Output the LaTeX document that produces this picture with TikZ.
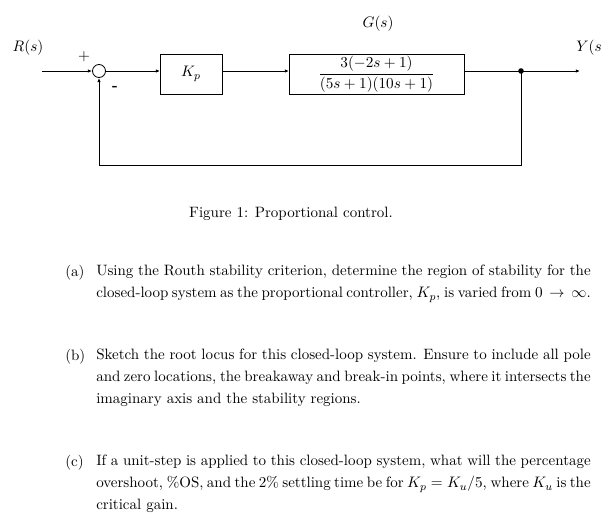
\documentclass[tikz,border=0pt]{standalone}
\usetikzlibrary{arrows.meta}
\begin{document}
\begin{tikzpicture}[x=0.72pt,y=-0.72pt,
  every node/.style={font=\fontsize{10.8pt}{15.8pt}\selectfont},
  blk/.style={draw,semithick,minimum height=40*0.72pt,inner sep=0pt},
  sig/.style={semithick,-{Latex[length=3pt,width=2.5pt]}},
  ln/.style={semithick},
  par/.style={anchor=north west,text width=356pt,align=justify,inner sep=0pt},
  lab/.style={anchor=north west,inner sep=0pt}]
\useasboundingbox (0,0) rectangle (601,528);
\coordinate (in) at (42,71);
\node[draw,semithick,circle,minimum size=13*0.72pt,inner sep=0pt] (sum) at (99,71) {};
\node[blk,minimum width=62*0.72pt] (kp) at (191,74) {$K_p$};
\node[blk,minimum width=175*0.72pt] (g) at (376.5,74) {$\displaystyle\frac{3(-2s+1)}{(5s+1)(10s+1)}$};
\coordinate (kpw) at (160,71);
\coordinate (kpe) at (222,71);
\coordinate (gw) at (289,71);
\coordinate (ge) at (464,71);
\coordinate (br) at (521,71);
\coordinate (out) at (580,71);
\coordinate (fb1) at (521,165);
\coordinate (fb2) at (99,165);
\fill (br) circle (2pt);
\draw[sig] (in) -- (sum.west);
\draw[sig] (sum.east) -- (kpw);
\draw[sig] (kpe) -- (gw);
\draw[ln] (ge) -- (br);
\draw[sig] (br) -- (out);
\draw[sig] (br) -- (fb1) -- (fb2) -- (sum.south);
\node (R) at (28,48) {$R(s)$};
\node (Y) at (592,48) {$Y(s)$};
\node (G) at (378,24) {$G(s)$};
\node (plus) at (84,57) {$+$};
\node (minus) at (115,88) {\textbf{-}};
\node (cap) at (291,214) {Figure 1: Proportional control.};
\node[lab] (la) at (65,265) {(a)};
\node[par] (pa) at (96,265) {Using the Routh stability criterion, determine the region of stability for the\linebreak closed-loop system as the proportional controller, $K_p$, is varied from $0\,\rightarrow\,\infty$.};
\node[lab] (lb) at (65,349) {(b)};
\node[par] (pb) at (96,349) {Sketch the root locus for this closed-loop system. Ensure to include all pole\linebreak and zero locations, the breakaway and break-in points, where it intersects the\linebreak imaginary axis and the stability regions.};
\node[lab] (lc) at (65,455) {(c)};
\node[par] (pc) at (96,455) {If a unit-step is applied to this closed-loop system, what will the percentage\linebreak overshoot, \%OS, and the 2\% settling time be for $K_p=K_u/5$, where $K_u$ is the\linebreak critical gain.};
\end{tikzpicture}
\end{document}
